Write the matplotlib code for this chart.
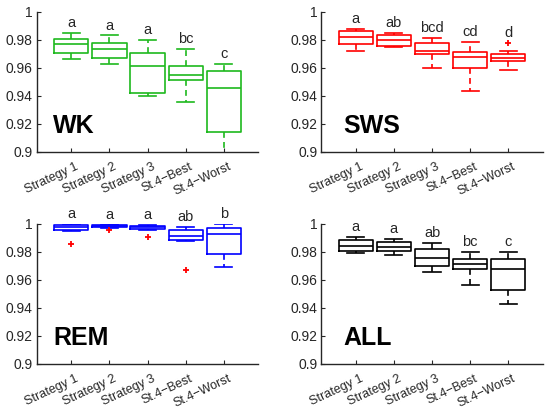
import matplotlib
matplotlib.use("Agg")
import matplotlib.pyplot as plt
import matplotlib.transforms as mtransforms

plt.rcParams['font.family'] = ['Liberation Sans', 'DejaVu Sans']

categories = ["Strategy 1", "Strategy 2", "Strategy 3", "St.4\u2212Best", "St.4\u2212Worst"]

# WK
wk_lo  = [0.9666, 0.9626, 0.9400, 0.9360, 0.8980]
wk_q1  = [0.9709, 0.9673, 0.9424, 0.9512, 0.9142]
wk_med = [0.9773, 0.9739, 0.9614, 0.9552, 0.9457]
wk_q3  = [0.9806, 0.9775, 0.9704, 0.9616, 0.9578]
wk_hi  = [0.9851, 0.9832, 0.9801, 0.9735, 0.9628]
wk_fl  = [[], [], [], [], []]
wk_let = ["a", "a", "a", "bc", "c"]

# SWS
sws_lo  = [0.9720, 0.9748, 0.9599, 0.9439, 0.9587]
sws_q1  = [0.9772, 0.9755, 0.9703, 0.9601, 0.9648]
sws_med = [0.9822, 0.9798, 0.9720, 0.9679, 0.9672]
sws_q3  = [0.9862, 0.9836, 0.9779, 0.9715, 0.9698]
sws_hi  = [0.9879, 0.9850, 0.9812, 0.9784, 0.9720]
sws_fl  = [[], [], [], [], [0.9779]]
sws_let = ["a", "ab", "bcd", "cd", "d"]

# REM
rem_lo  = [0.9950, 0.9974, 0.9959, 0.9881, 0.9691]
rem_q1  = [0.9959, 0.9976, 0.9962, 0.9888, 0.9786]
rem_med = [0.9981, 0.9985, 0.9975, 0.9912, 0.9926]
rem_q3  = [0.9996, 0.9994, 0.9988, 0.9959, 0.9971]
rem_hi  = [0.9999, 0.9997, 0.9992, 0.9976, 0.9998]
rem_fl  = [[0.9859], [0.9955], [0.9907], [0.9669], []]
rem_let = ["a", "a", "a", "ab", "b"]

# ALL
all_lo  = [0.9796, 0.9781, 0.9656, 0.9565, 0.9432]
all_q1  = [0.9808, 0.9808, 0.9703, 0.9677, 0.9525]
all_med = [0.9846, 0.9836, 0.9760, 0.9713, 0.9675]
all_q3  = [0.9888, 0.9869, 0.9822, 0.9751, 0.9748]
all_hi  = [0.9910, 0.9891, 0.9867, 0.9798, 0.9803]
all_fl  = [[], [], [], [], []]
all_let = ["a", "a", "ab", "bc", "c"]

panels = [
    ("WK",  (30/255, 185/255, 30/255), wk_lo, wk_q1, wk_med, wk_q3, wk_hi, wk_fl, wk_let),
    ("SWS", (1.0, 0.0, 0.0), sws_lo, sws_q1, sws_med, sws_q3, sws_hi, sws_fl, sws_let),
    ("REM", (0.0, 0.0, 1.0), rem_lo, rem_q1, rem_med, rem_q3, rem_hi, rem_fl, rem_let),
    ("ALL", (0.0, 0.0, 0.0), all_lo, all_q1, all_med, all_q3, all_hi, all_fl, all_let),
]

yticks = [0.9, 0.92, 0.94, 0.96, 0.98, 1.0]
ytick_labels = ["0.9", "0.92", "0.94", "0.96", "0.98", "1"]

fig = plt.figure(figsize=(5.5, 4.18), dpi=100)
rects = [
    [0.0673, 0.6364, 0.402, 0.335],
    [0.5845, 0.6364, 0.402, 0.335],
    [0.0673, 0.1292, 0.402, 0.335],
    [0.5845, 0.1292, 0.402, 0.335],
]
label_x = [0.52, 0.67, 0.53, 0.67]
shift = mtransforms.ScaledTranslation(4/100, -9/100, fig.dpi_scale_trans)

for i, (name, col, lo, q1, med, q3, hi, fl, let) in enumerate(panels):
    ax = fig.add_axes(rects[i])
    stats = []
    for j in range(len(categories)):
        stats.append(dict(whislo=lo[j], q1=q1[j], med=med[j], q3=q3[j],
                          whishi=hi[j], fliers=fl[j], label=categories[j]))
    pos = list(range(1, len(categories) + 1))
    ax.bxp(stats, positions=pos, widths=0.9, capwidths=0.45, showfliers=True,
           boxprops=dict(color=col, linewidth=1.2),
           medianprops=dict(color=col, linewidth=1.2),
           whiskerprops=dict(color=col, linewidth=1.2, linestyle=(0, (3.5, 2.5))),
           capprops=dict(color=col, linewidth=1.2),
           flierprops=dict(marker='+', markeredgecolor='red', markersize=4.5,
                           markeredgewidth=1.3, linestyle='none'))
    for art in ax.lines:
        art.set_clip_on(True)
    ax.set_xlim(0.1, 5.9)
    ax.set_ylim(0.9, 1.0)
    ax.set_yticks(yticks)
    ax.set_yticklabels(ytick_labels, fontsize=10, color='#262626')
    ax.set_xticks(pos)
    ax.set_xticklabels([])
    tr = ax.get_xaxis_transform() + shift
    for j, c in enumerate(categories):
        ax.text(pos[j], 0, c, transform=tr, fontsize=9, rotation=25,
                ha='right', va='top', rotation_mode='anchor', color='#262626',
                clip_on=False)
    ax.tick_params(direction='in', length=3, width=0.8, color='#262626', pad=3)
    ax.spines['top'].set_visible(False)
    ax.spines['right'].set_visible(False)
    for s in ('left', 'bottom'):
        ax.spines[s].set_linewidth(1.0)
        ax.spines[s].set_color('#262626')
    for j in range(len(categories)):
        top = max([hi[j]] + list(fl[j]))
        ax.text(pos[j], top + 0.0042, let[j], ha='center', va='baseline',
                fontsize=10.5, color='#262626', clip_on=False)
    ax.text(label_x[i], 0.9135, name, fontsize=18, fontweight='bold',
            ha='left', va='baseline', color='black')

fig.savefig("out.png", dpi=100)
